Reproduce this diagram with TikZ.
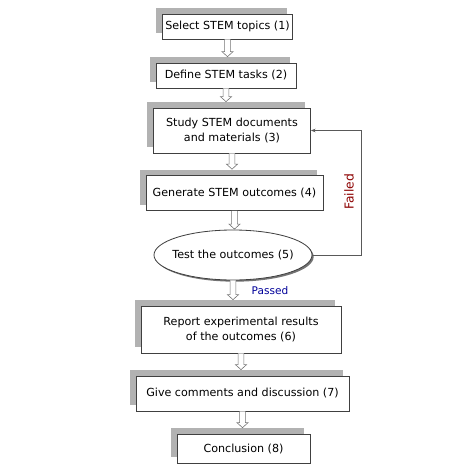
\documentclass[tikz,border=0pt]{standalone}
\usepackage{fontspec}
\setmainfont{DejaVu Sans}
\usetikzlibrary{positioning,calc,arrows.meta}
\usetikzlibrary{shapes.geometric,shadows}

\tikzset{
  stepbox/.style={draw=black!75, fill=white, line width=0.6pt, align=center, inner sep=0pt,
    font=\fontsize{9.5}{12}\selectfont,
    drop shadow={shadow xshift=-0.18cm, shadow yshift=0.18cm, fill=black!30, opacity=1}},
  testnode/.style={ellipse, draw=black!75, fill=white, line width=0.7pt, inner xsep=-6pt, inner ysep=0pt,
    font=\fontsize{9.5}{12}\selectfont,
    drop shadow={shadow xshift=0.05cm, shadow yshift=-0.05cm, fill=black!55, opacity=1}},
  hollow/.style={draw=black!55, fill=white, line width=0.5pt},
  loopline/.style={draw=black!65, line width=0.5pt, -{Stealth[length=4pt,width=3pt]}},
}

% block arrow from one step down to the next
\newcommand{\hollowdown}[3][6]{%
  \coordinate (tip) at ($(#2.south |- #3.north)+(0,-#1)$);
  \draw[hollow] ($(#2.south)+(-2.8,0)$) -- ($(tip)+(-2.8,-5)$) -- ($(tip)+(-5.5,-5)$) -- (tip)
    -- ($(tip)+(5.5,-5)$) -- ($(tip)+(2.8,-5)$) -- ($(#2.south)+(2.8,0)$);}

\begin{document}
\begin{tikzpicture}[x=0.03cm,y=-0.03cm]
    \useasboundingbox (0,0) rectangle (474,474);
    %Topics
    \node[stepbox, minimum width=3.9cm, minimum height=0.75cm] (topics) at (227.5,26.5) {Select STEM topics (1)};
    %Tasks
    \node[stepbox, minimum width=4.2cm, minimum height=0.75cm] (tasks) at (226,75.5) {Define STEM tasks (2)};
    %Documents
    \node[stepbox, minimum width=4.71cm, minimum height=1.35cm] (study) at (232,130.5) {Study STEM documents\\and materials (3)};
    %Outcomes
    \node[stepbox, minimum width=5.31cm, minimum height=1.05cm] (generate) at (234.5,193) {Generate STEM outcomes (4)};
    %Test
    \node[testnode, minimum width=4.74cm, minimum height=1.5cm] (test) at (233,255) {Test the outcomes (5)};
    %Report
    \node[stepbox, minimum width=6cm, minimum height=1.41cm] (report) at (241,329.5) {Report experimental results\\of the outcomes (6)};
    %Discussion
    \node[stepbox, minimum width=6.39cm, minimum height=1.05cm] (discuss) at (242.5,393.5) {Give comments and discussion (7)};
    %Conclusion
    \node[stepbox, minimum width=3.99cm, minimum height=0.87cm] (conclude) at (243.5,448.5) {Conclusion (8)};
    %Block arrows
    \hollowdown{topics}{tasks}
    \hollowdown{tasks}{study}
    \hollowdown{study}{generate}
    \hollowdown[0.5]{generate}{test}
    \hollowdown{test}{report}
    \hollowdown{report}{discuss}
    \hollowdown{discuss}{conclude}
    %Failed loop
    \coordinate (back) at (361,256);
    \draw[loopline] (test.east) -- (test.east -| back) |- (study.east);
    \node[rotate=90, text=red!55!black, font=\fontsize{10.5}{12}\selectfont] (failed) at (349,192) {Failed};
    %Passed
    \node[text=blue!60!black, font=\fontsize{9}{11}\selectfont] (passed) at (270,290.5) {Passed};
\end{tikzpicture}
\end{document}
